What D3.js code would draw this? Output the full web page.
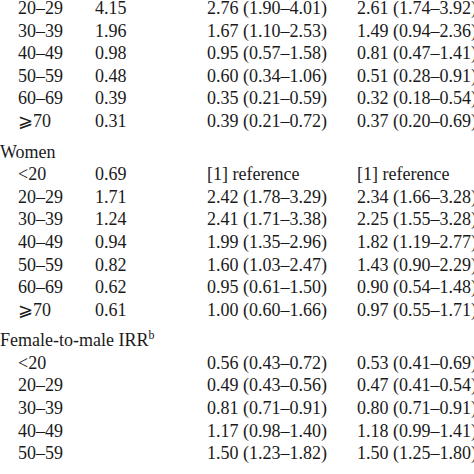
<!DOCTYPE html>
<html>
<head>
<meta charset="utf-8">
<script src="https://cdn.jsdelivr.net/npm/d3@7"></script>
<style>
body { margin: 0; background: #fff; }
</style>
</head>
<body>
<div id="chart"></div>
<script>
// rows: [label, crude, adjusted1, adjusted2]; section headers have only a label
var menRows = [
  ["20–29", "4.15", "2.76 (1.90–4.01)", "2.61 (1.74–3.92)"],
  ["30–39", "1.96", "1.67 (1.10–2.53)", "1.49 (0.94–2.36)"],
  ["40–49", "0.98", "0.95 (0.57–1.58)", "0.81 (0.47–1.41)"],
  ["50–59", "0.48", "0.60 (0.34–1.06)", "0.51 (0.28–0.91)"],
  ["60–69", "0.39", "0.35 (0.21–0.59)", "0.32 (0.18–0.54)"],
  ["⩾70", "0.31", "0.39 (0.21–0.72)", "0.37 (0.20–0.69)"]
];
var womenRows = [
  ["<20", "0.69", "[1] reference", "[1] reference"],
  ["20–29", "1.71", "2.42 (1.78–3.29)", "2.34 (1.66–3.28)"],
  ["30–39", "1.24", "2.41 (1.71–3.38)", "2.25 (1.55–3.28)"],
  ["40–49", "0.94", "1.99 (1.35–2.96)", "1.82 (1.19–2.77)"],
  ["50–59", "0.82", "1.60 (1.03–2.47)", "1.43 (0.90–2.29)"],
  ["60–69", "0.62", "0.95 (0.61–1.50)", "0.90 (0.54–1.48)"],
  ["⩾70", "0.61", "1.00 (0.60–1.66)", "0.97 (0.55–1.71)"]
];
var irrRows = [
  ["<20", "", "0.56 (0.43–0.72)", "0.53 (0.41–0.69)"],
  ["20–29", "", "0.49 (0.43–0.56)", "0.47 (0.41–0.54)"],
  ["30–39", "", "0.81 (0.71–0.91)", "0.80 (0.71–0.91)"],
  ["40–49", "", "1.17 (0.98–1.40)", "1.18 (0.99–1.41)"],
  ["50–59", "", "1.50 (1.23–1.82)", "1.50 (1.25–1.80)"]
];
var sections = [
  {title: null, rows: menRows},
  {title: "Women", rows: womenRows},
  {title: "Female-to-male IRR", sup: "b", rows: irrRows}
];

var width = 474, height = 474;
var svg = d3.select("#chart").append("svg")
  .attr("width", width).attr("height", height)
  .style("font-family", "'Liberation Serif', 'DejaVu Serif', serif")
  .style("font-size", "18px")
  .attr("fill", "#1a1a1a");

// flatten to lines, headers get extra spacing
var lines = [], slot = 0;
sections.forEach(function(s) {
  if (s.title) { slot += 0.35; lines.push({header: s.title, sup: s.sup, slot: slot}); slot += 1; }
  s.rows.forEach(function(r) { lines.push({cells: r, slot: slot}); slot += 1; });
});

var y = d3.scaleLinear().domain([0, 1]).range([8, 30.6]);
var x = d3.scaleOrdinal().domain([0, 1, 2, 3]).range([18, 95, 207, 357]);

var g = svg.selectAll("g.line").data(lines).enter().append("g")
  .attr("class", "line")
  .attr("transform", function(d) { return "translate(0," + (y(d.slot) + 6) + ")"; });

g.filter(function(d) { return d.header; }).append("text")
  .attr("x", 0)
  .text(function(d) { return d.header; })
  .append("tspan")
  .attr("dy", -7).attr("font-size", "12px")
  .text(function(d) { return d.sup || ""; });

g.filter(function(d) { return d.cells; }).selectAll("text.cell")
  .data(function(d) { return d.cells; })
  .enter().append("text")
  .attr("class", "cell")
  .attr("x", function(d, i) { return x(i); })
  .text(function(d) { return d; });
</script>
</body>
</html>
